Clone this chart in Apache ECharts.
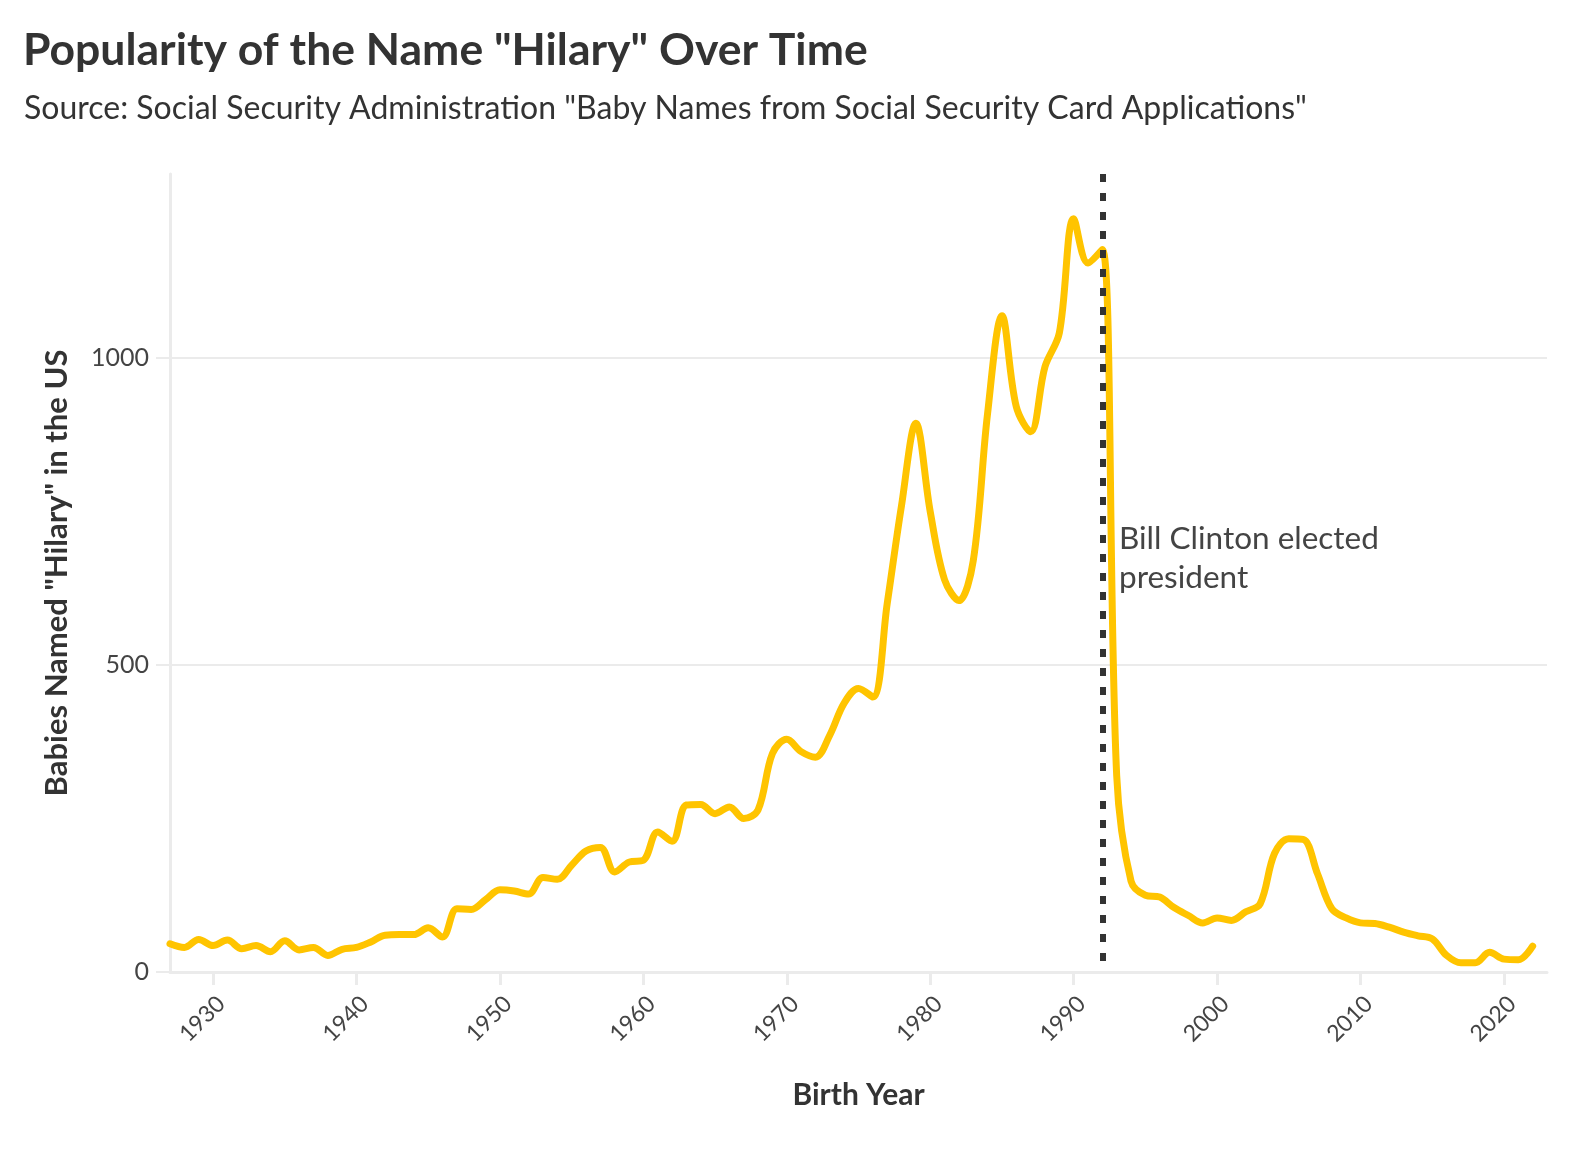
<!DOCTYPE html>
<html>
<head>
<meta charset="utf-8">
<title>Popularity of the Name "Hilary" Over Time</title>
<script src="https://cdn.jsdelivr.net/npm/echarts@6/dist/echarts.min.js"></script>
<style>
  html, body { margin: 0; padding: 0; background: #fff; }
  #main { width: 1588px; height: 1150px; }
</style>
</head>
<body>
<div id="main"></div>
<script>
// birth years and babies named "Hilary" (SSA baby names)
const years = [
  1927, 1928, 1929, 1930, 1931, 1932, 1933, 1934, 1935, 1936,
  1937, 1938, 1939, 1940, 1941, 1942, 1943, 1944, 1945, 1946,
  1947, 1948, 1949, 1950, 1951, 1952, 1953, 1954, 1955, 1956,
  1957, 1958, 1959, 1960, 1961, 1962, 1963, 1964, 1965, 1966,
  1967, 1968, 1969, 1970, 1971, 1972, 1973, 1974, 1975, 1976,
  1977, 1978, 1979, 1980, 1981, 1982, 1983, 1984, 1985, 1986,
  1987, 1988, 1989, 1990, 1991, 1992, 1993, 1994, 1995, 1996,
  1997, 1998, 1999, 2000, 2001, 2002, 2003, 2004, 2005, 2006,
  2007, 2008, 2009, 2010, 2011, 2012, 2013, 2014, 2015, 2016,
  2017, 2018, 2019, 2020, 2021, 2022
];
const counts = [
  46, 40, 53, 43, 52, 38, 43, 33, 51, 36,
  40, 27, 37, 40, 49, 60, 61, 61, 72, 57,
  103, 102, 118, 134, 132, 127, 154, 151, 174, 197,
  203, 163, 179, 182, 228, 213, 272, 273, 258, 269,
  250, 264, 356, 379, 359, 350, 386, 438, 462, 448,
  600, 760, 894, 750, 639, 605, 670, 910, 1069, 921,
  880, 986, 1041, 1227, 1155, 1177, 320, 148, 125, 122,
  105, 92, 80, 88, 84, 98, 111, 193, 217, 216,
  160, 103, 88, 80, 79, 73, 65, 59, 54, 27,
  15, 15, 32, 21, 20, 42
];
const xTicks = [1930, 1940, 1950, 1960, 1970, 1980, 1990, 2000, 2010, 2020];
const yTicks = [0, 500, 1000];
const electionYear = 1992;
const annotation = 'Bill Clinton elected\npresident';

const font = 'Lato';
const gridColor = '#ebebeb';

let myChart = echarts.init(document.getElementById('main'));
myChart.setOption({
  animation: false,
  backgroundColor: '#fff',
  title: [
    {
      text: 'Popularity of the Name "Hilary" Over Time',
      left: 18, top: 23,
      textStyle: { fontFamily: font, fontWeight: 'bold', fontSize: 44.5, color: '#333' }
    },
    {
      text: 'Source: Social Security Administration "Baby Names from Social Security Card Applications"',
      left: 19, top: 88,
      textStyle: { fontFamily: font, fontWeight: 'normal', fontSize: 32, color: '#333' }
    }
  ],
  grid: { left: 170, right: 41, top: 174, bottom: 178, containLabel: false },
  xAxis: {
    type: 'value',
    min: 1927,
    max: 2023,
    name: 'Birth Year',
    nameLocation: 'middle',
    nameGap: 108,
    nameTextStyle: { fontFamily: font, fontWeight: 'bold', fontSize: 30, color: '#333' },
    axisLine: { show: true, lineStyle: { color: gridColor, width: 3 } },
    axisTick: { show: true, length: 13, customValues: xTicks, lineStyle: { color: gridColor, width: 3 } },
    axisLabel: {
      customValues: xTicks, rotate: 45, margin: 20, verticalAlign: 'top',
      fontFamily: font, fontSize: 23, color: '#444',
      formatter: v => String(v)
    },
    splitLine: { show: false }
  },
  yAxis: {
    type: 'value',
    min: 0,
    max: 1300,
    name: 'Babies Named "Hilary" in the US',
    nameLocation: 'middle',
    nameRotate: 90,
    nameGap: 98,
    nameTextStyle: { fontFamily: font, fontWeight: 'bold', fontSize: 31, color: '#333' },
    axisLine: { show: true, lineStyle: { color: gridColor, width: 3 } },
    axisTick: { show: true, length: 14, customValues: yTicks, lineStyle: { color: gridColor, width: 2 } },
    axisLabel: {
      customValues: yTicks, margin: 21, fontFamily: font, fontSize: 25, color: '#444',
      formatter: v => String(v)
    },
    splitLine: { show: true, lineStyle: { color: gridColor, width: 2 } }
  },
  series: [
    {
      type: 'line',
      data: years.map((y, i) => [y, counts[i]]),
      showSymbol: false,
      smooth: 0.35,
      lineStyle: { color: '#ffc400', width: 7, join: 'round', cap: 'round' },
      markLine: {
        silent: true,
        symbol: 'none',
        label: { show: false },
        lineStyle: { color: '#333', width: 6, type: [8, 11], cap: 'butt' },
        // drawn top-down so the dash pattern starts at the top of the plot
        data: [[{ xAxis: electionYear, yAxis: 1300 }, { xAxis: electionYear, yAxis: 0 }]]
      }
    }
  ],
  graphic: [
    {
      type: 'text',
      left: 1119,
      top: 519,
      style: {
        text: annotation,
        fontFamily: font,
        fontSize: 31.5,
        lineHeight: 39,
        fill: '#444'
      }
    }
  ]
});
</script>
</body>
</html>
